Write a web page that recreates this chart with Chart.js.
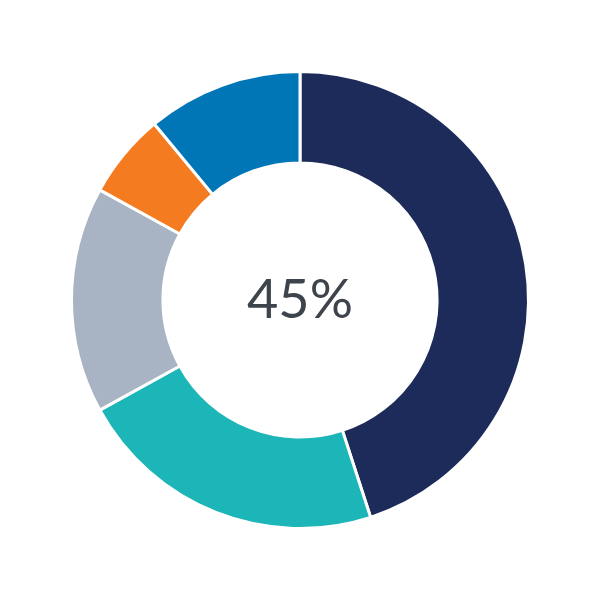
<!DOCTYPE html>
<html>
<head>
<meta charset="utf-8">
<script src="https://cdn.jsdelivr.net/npm/chart.js"></script>
<style>
html,body{margin:0;padding:0;background:#fff;}
#wrap{position:relative;width:600px;height:600px;}
</style>
</head>
<body>
<div id="wrap"><canvas id="c" width="600" height="600"></canvas></div>
<script>
const labels = ["Segment A", "Segment B", "Segment C", "Segment D", "Segment E"];
const values = [45, 22, 16, 6, 11];
const colors = ["#1c2b5a", "#1cb5b8", "#a8b3c3", "#f47b20", "#0076b6"];
const centerText = "45%";

const centerPlugin = {
  id: "centerText",
  afterDraw(chart) {
    const ctx = chart.ctx;
    const a = chart.chartArea;
    ctx.save();
    ctx.font = "54px Lato";
    ctx.fillStyle = "#3e444b";
    ctx.textAlign = "center";
    ctx.textBaseline = "middle";
    ctx.fillText(centerText, (a.left + a.right) / 2, (a.top + a.bottom) / 2 + 1);
    ctx.restore();
  }
};

new Chart(document.getElementById("c"), {
  type: "doughnut",
  data: {
    labels: labels,
    datasets: [{
      data: values,
      backgroundColor: colors,
      borderColor: "#ffffff",
      borderWidth: 3
    }]
  },
  options: {
    responsive: false,
    animation: false,
    cutout: "60%",
    layout: { padding: 70 },
    plugins: { legend: { display: false }, tooltip: { enabled: false } }
  },
  plugins: [centerPlugin]
});
</script>
</body>
</html>
